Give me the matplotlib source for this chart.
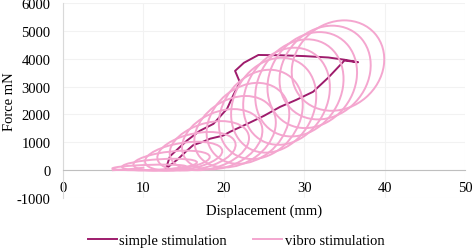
import numpy as np
import matplotlib.pyplot as plt
from matplotlib.patches import Ellipse
from matplotlib.transforms import Affine2D
from matplotlib.ticker import FuncFormatter

plt.rcParams['font.family'] = ['Liberation Serif', 'DejaVu Serif']

# ---------- simple stimulation (one loading / unloading trace) ----------
simple_x = [12.9, 13.3, 15.4, 17.0, 18.7, 20.4, 21.2, 22.0, 21.4, 22.5, 24.3,
            27.0, 30.0, 33.0, 35.0, 36.7, 35.0, 33.0, 31.1, 29.0, 27.0, 25.0,
            22.9, 20.8, 19.9, 18.3, 17.4, 16.2, 15.4, 14.3, 13.3, 12.8]
simple_y = [150, 500, 1060, 1410, 1660, 2200, 2700, 3150, 3560, 3850, 4130,
            4120, 4090, 4040, 3960, 3870, 3930, 3320, 2810, 2520, 2270, 1950,
            1660, 1380, 1240, 1130, 1020, 900, 700, 400, 170, 50]

# ---------- vibro stimulation: loops of the coil ----------
loop_cx = [10.7, 12.0, 13.5, 15.0, 16.6, 18.2, 19.8, 21.4, 23.0, 24.6, 26.2,
           27.8, 29.4, 31.0, 32.6, 34.2]
loop_cy = [100, 200, 340, 500, 680, 880, 1110, 1380, 1680, 2000, 2330,
           2650, 2950, 3230, 3500, 3750]
loop_w = [8.4, 8.6, 8.8, 9.0, 9.2, 9.4, 9.6, 9.8, 10.0, 10.2, 10.4,
          10.6, 10.8, 11.0, 11.2, 11.4]
loop_h = [200, 420, 720, 1040, 1380, 1760, 2160, 2560, 2900, 3200, 3400,
          3480, 3480, 3440, 3360, 3240]
# how far (mm) the top of each loop leans to the right
loop_lean = [1.8, 1.8, 1.8, 1.7, 1.6, 1.5, 1.4, 1.3, 1.2, 1.1, 1.0,
             1.0, 1.0, 0.9, 0.9, 0.8]
# start of the trace before the loops
tail_x = [6.2, 8.0, 10.0]
tail_y = [0, 30, 90]

pink = '#f4a6cf'
purple = '#9e1c6c'
fs = 10.5

fig = plt.figure(figsize=(4.74, 2.53), dpi=100)
ax = fig.add_axes([0.133, 0.213, 0.848, 0.772])

ax.plot(simple_x, simple_y, color=purple, lw=1.4, label='simple stimulation', zorder=2)
for cx, cy, w, h, lean in zip(loop_cx, loop_cy, loop_w, loop_h, loop_lean):
    k = lean / (h / 2)
    tr = Affine2D(np.array([[1, k, cx], [0, 1, cy], [0, 0, 1]])) + ax.transData
    ax.add_patch(Ellipse((0, 0), w, h, fill=False, ec=pink, lw=1.4,
                         transform=tr, zorder=3))
ax.plot(tail_x, tail_y, color=pink, lw=1.4, label='vibro stimulation', zorder=3)

ax.set_xlim(0, 50)
ax.set_ylim(-1000, 6000)
ax.set_xticks(range(0, 51, 10))
ax.set_yticks(range(-1000, 6001, 1000))
ax.yaxis.set_major_formatter(FuncFormatter(lambda v, p: '%d' % v))
ax.grid(True, color='#f2f2f2', lw=0.8, zorder=0)
ax.set_axisbelow(True)

for s in ['top', 'right']:
    ax.spines[s].set_visible(False)
ax.spines['bottom'].set_position(('data', 0))
ax.spines['bottom'].set_color('#bfbfbf')
ax.spines['left'].set_color('#d9d9d9')
ax.tick_params(length=0, labelsize=fs)
ax.tick_params(axis='x', pad=8)
ax.tick_params(axis='y', pad=9)

ax.set_xlabel('Displacement (mm)', fontsize=fs)
ax.xaxis.set_label_coords(0.5, -0.03)
ax.set_ylabel('Force mN', fontsize=fs)
ax.yaxis.set_label_coords(-0.117, 0.5)

fig.legend(loc='center', bbox_to_anchor=(0.498, 0.045), ncol=2,
           frameon=False, fontsize=fs, handlelength=2.0, columnspacing=1.8,
           handletextpad=0.15)

fig.savefig('out.png', dpi=100)
